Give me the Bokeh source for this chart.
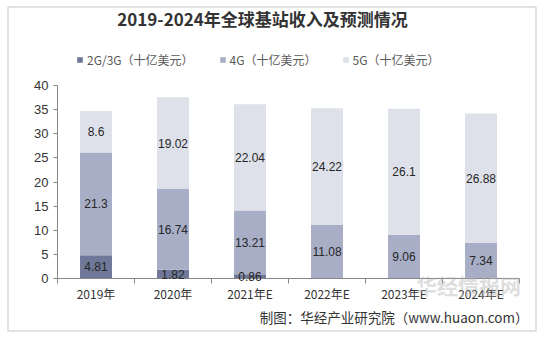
from bokeh.plotting import figure
from bokeh.models import (ColumnDataSource, Range1d, FixedTicker, LabelSet, Label,
                          Legend, LegendItem, LinearAxis, BoxAnnotation)
from bokeh.core.properties import value
from bokeh.embed import file_html
from bokeh.resources import INLINE

# ---- data ----
years = ["2019年", "2020年", "2021年E", "2022年E", "2023年E", "2024年E"]
rev_2g3g = [4.81, 1.82, 0.86, 0, 0, 0]
rev_4g = [21.3, 16.74, 13.21, 11.08, 9.06, 7.34]
rev_5g = [8.6, 19.02, 22.04, 24.22, 26.1, 26.88]
series_names = ["2G/3G（十亿美元）", "4G（十亿美元）", "5G（十亿美元）"]
y_ticks = [0, 5, 10, 15, 20, 25, 30, 35, 40]
title_text = "2019-2024年全球基站收入及预测情况"
source_text = "制图：华经产业研究院（www.huaon.com）"
watermark_text = "华经情报网"

# ---- layout: the frame covers the whole canvas; the axes sit at fixed data locations ----
W, H = 545, 338
L, R, T, B = 57, 519, 85, 278     # pixel box of the chart area (0..n, 0..YMAX)
colors = ["#6f7898", "#a8aec6", "#dfe1ea"]
n = len(years)
YMAX = y_ticks[-1]

def sx(px):
    return (px - L) / (R - L) * n

def sy(py):
    return (B - py) / (B - T) * YMAX

p = figure(width=W, height=H, x_range=Range1d(sx(0), sx(W)), y_range=Range1d(sy(H), sy(0)),
           output_backend="svg", toolbar_location=None,
           x_axis_location=None, y_axis_location=None,
           min_border_left=0, min_border_right=0, min_border_top=0, min_border_bottom=0)
p.outline_line_color = None
p.xgrid.visible = False
p.ygrid.visible = False
p.background_fill_color = "white"
p.border_fill_color = "white"

xs = [i + 0.5 for i in range(n)]
src = ColumnDataSource(dict(x=xs, s1=rev_2g3g, s2=rev_4g, s3=rev_5g))
rs = p.vbar_stack(["s1", "s2", "s3"], x="x", width=0.415, color=colors,
                  line_color=None, source=src)

# segment labels
stacks = [rev_2g3g, rev_4g, rev_5g]
lx, ly, lt = [], [], []
for i in range(n):
    base = 0
    for s in stacks:
        v = s[i]
        if v > 0:
            lx.append(xs[i]); ly.append(base + v / 2); lt.append(str(v))
        base += v
lsrc = ColumnDataSource(dict(x=lx, y=ly, t=lt))
p.add_layout(LabelSet(x="x", y="y", text="t", source=lsrc, text_align="center",
                      text_baseline="middle", text_font=value("Liberation Sans"),
                      text_font_size="12px", text_color="#262626"))

# x axis at y = 0
ax = LinearAxis(fixed_location=0, bounds=(0, n))
ax.ticker = FixedTicker(ticks=xs, minor_ticks=list(range(n + 1)))
ax.major_label_overrides = {x: y for x, y in zip(xs, years)}
ax.major_tick_out = 0
ax.major_tick_in = 0
ax.minor_tick_out = 5
ax.minor_tick_in = 0
ax.axis_line_color = "#868686"
ax.minor_tick_line_color = "#868686"
ax.major_label_text_font = "Noto Sans CJK SC"
ax.major_label_text_font_size = "12px"
ax.major_label_text_color = "#333333"
ax.major_label_standoff = 1
p.add_layout(ax, "below")

# y axis at x = 0
ay = LinearAxis(fixed_location=0, bounds=(0, YMAX))
ay.ticker = FixedTicker(ticks=y_ticks)
ay.major_tick_out = 4
ay.major_tick_in = 0
ay.minor_tick_out = 0
ay.minor_tick_in = 0
ay.axis_line_color = "#868686"
ay.major_tick_line_color = "#868686"
ay.major_label_text_font = "Liberation Sans"
ay.major_label_text_font_size = "13px"
ay.major_label_text_color = "#333333"
ay.major_label_standoff = 5
p.add_layout(ay, "left")

# legend
legend = Legend(items=[LegendItem(label=nm, renderers=[r]) for nm, r in zip(series_names, rs)],
                location=(76, H - 68), orientation="horizontal", padding=0, margin=0,
                spacing=25, glyph_width=7, glyph_height=7, label_standoff=4,
                label_height=14, label_text_font="Noto Sans CJK SC",
                label_text_font_size="12px", label_text_color="#595959",
                border_line_color=None, background_fill_alpha=0)
p.add_layout(legend, "center")

# title, watermark, source
p.add_layout(Label(x=sx(262), y=sy(18), text=title_text, text_align="center",
                   text_baseline="middle", text_font="Noto Sans CJK SC",
                   text_font_style="bold", text_font_size="17px", text_color="#333333"))
p.add_layout(Label(x=sx(468), y=sy(284), text=watermark_text, text_align="center",
                   text_baseline="middle", text_font="Noto Sans CJK SC",
                   text_font_style="bold", text_font_size="21px", text_color="#b4b4b4",
                   text_alpha=0.45))
p.add_layout(Label(x=sx(528), y=sy(316), text=source_text, text_align="right",
                   text_baseline="middle", text_font="Noto Sans CJK SC",
                   text_font_size="13.5px", text_color="#333333"))

# outer grey box
p.add_layout(BoxAnnotation(left=sx(7.5), right=sx(535.5), top=sy(6.5), bottom=sy(330.5),
                           fill_alpha=0, line_color="#808080", line_width=1.5))

open("out.html", "w").write(file_html(p, INLINE))
